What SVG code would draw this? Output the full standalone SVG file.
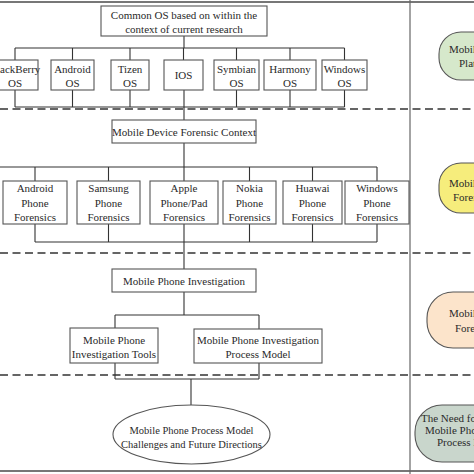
<svg xmlns="http://www.w3.org/2000/svg" width="474" height="474" viewBox="0 0 474 474">
<style>
.box{fill:#fff;stroke:#555;stroke-width:1.1}
.t{font-family:"Liberation Serif","Times New Roman",serif;font-size:11px;fill:#2a2a2a;text-anchor:middle}
.ts{font-family:"Liberation Serif","Times New Roman",serif;font-size:11px;fill:#2a2a2a}
.ln{fill:none;stroke:#333;stroke-width:1.1}
.dash{fill:none;stroke:#333;stroke-width:1.4;stroke-dasharray:8 4.5}
.pill{stroke:#555;stroke-width:1.1}
</style>
<rect x="0" y="0" width="474" height="474" fill="#fff"/>
<g id="frame">
<line x1="0" y1="2" x2="474" y2="2" stroke="#777" stroke-width="2"/>
<line x1="0" y1="471" x2="474" y2="471" stroke="#777" stroke-width="2"/>
<line x1="410" y1="0" x2="410" y2="474" stroke="#666" stroke-width="1.2"/>
<line class="dash" x1="0" y1="109" x2="474" y2="109"/>
<line class="dash" x1="0" y1="253" x2="474" y2="253"/>
<line class="dash" x1="0" y1="375" x2="474" y2="375"/>
</g>
<g id="connectors">
<path class="ln" d="M184 36V48M15 48H344.5M15 48V60M72.5 48V60M130 48V60M183.5 48V60M236.5 48V60M290 48V60M344.5 48V60"/>
<path class="ln" d="M15 90V107M72.5 90V107M130 90V107M236.5 90V107M290 90V107M344.5 90V107M15 107H344.5M184 90V120"/>
<path class="ln" d="M184 143V167M0 167H377M35 167V181M108.5 167V181M184 167V181M249.5 167V181M312.5 167V181M377 167V181"/>
<path class="ln" d="M35 224V242M108.5 224V242M249.5 224V242M312.5 224V242M377 224V242M35 242H377M184 224V269"/>
<path class="ln" d="M184 292V315M115 315H259M115 315V328M259 315V329"/>
<path class="ln" d="M115 363V379M259 363V379M115 379H259M191 379V405"/>
</g>
<g id="common-os"><rect class="box" x="101" y="6" width="166" height="30"/><text class="t" x="184" y="19">Common OS based on within the</text><text class="t" x="184" y="33">context of current research</text></g>
<g id="blackberry"><rect class="box" x="-8" y="60" width="46" height="30"/><text class="t" x="15" y="73">BlackBerry</text><text class="t" x="15" y="87">OS</text></g>
<g id="android-os"><rect class="box" x="51" y="60" width="43" height="30"/><text class="t" x="72.5" y="73">Android</text><text class="t" x="72.5" y="87">OS</text></g>
<g id="tizen"><rect class="box" x="111" y="60" width="38" height="30"/><text class="t" x="130" y="73">Tizen</text><text class="t" x="130" y="87">OS</text></g>
<g id="ios"><rect class="box" x="164" y="60" width="39" height="30"/><text class="t" x="183.5" y="79">IOS</text></g>
<g id="symbian"><rect class="box" x="214" y="60" width="45" height="30"/><text class="t" x="236.5" y="73">Symbian</text><text class="t" x="236.5" y="87">OS</text></g>
<g id="harmony"><rect class="box" x="264" y="60" width="52" height="30"/><text class="t" x="290" y="73">Harmony</text><text class="t" x="290" y="87">OS</text></g>
<g id="windows-os"><rect class="box" x="322" y="60" width="45" height="30"/><text class="t" x="344.5" y="73">Windows</text><text class="t" x="344.5" y="87">OS</text></g>
<g id="forensic-context"><rect class="box" x="112" y="120" width="144" height="23"/><text class="t" x="184" y="136">Mobile Device Forensic Context</text></g>
<g id="android-forensics"><rect class="box" x="3" y="181" width="64" height="43"/><text class="t" x="35" y="192">Android</text><text class="t" x="35" y="207">Phone</text><text class="t" x="35" y="221">Forensics</text></g>
<g id="samsung-forensics"><rect class="box" x="77" y="181" width="63" height="43"/><text class="t" x="108.5" y="192">Samsung</text><text class="t" x="108.5" y="207">Phone</text><text class="t" x="108.5" y="221">Forensics</text></g>
<g id="apple-forensics"><rect class="box" x="150" y="181" width="68" height="43"/><text class="t" x="184" y="192">Apple</text><text class="t" x="184" y="207">Phone/Pad</text><text class="t" x="184" y="221">Forensics</text></g>
<g id="nokia-forensics"><rect class="box" x="223" y="181" width="53" height="43"/><text class="t" x="249.5" y="192">Nokia</text><text class="t" x="249.5" y="207">Phone</text><text class="t" x="249.5" y="221">Forensics</text></g>
<g id="huawai-forensics"><rect class="box" x="283" y="181" width="59" height="43"/><text class="t" x="312.5" y="192">Huawai</text><text class="t" x="312.5" y="207">Phone</text><text class="t" x="312.5" y="221">Forensics</text></g>
<g id="windows-forensics"><rect class="box" x="345" y="181" width="64" height="43"/><text class="t" x="377" y="192">Windows</text><text class="t" x="377" y="207">Phone</text><text class="t" x="377" y="221">Forensics</text></g>
<g id="investigation"><rect class="box" x="112" y="269" width="144" height="23"/><text class="t" x="184" y="285">Mobile Phone Investigation</text></g>
<g id="tools"><rect class="box" x="70" y="328" width="88" height="35"/><text class="t" x="114" y="344">Mobile Phone</text><text class="t" x="114" y="358">Investigation Tools</text></g>
<g id="process-model"><rect class="box" x="194" y="329" width="128" height="34"/><text class="t" x="258" y="344">Mobile Phone Investigation</text><text class="t" x="258" y="358">Process Model</text></g>
<g id="challenges"><ellipse cx="191.5" cy="434.5" rx="78.5" ry="29.5" fill="#fff" stroke="#555" stroke-width="1.1"/><text class="t" x="191.5" y="434" style="font-size:10.5px">Mobile Phone Process Model</text><text class="t" x="191.5" y="448" style="font-size:10.5px">Challenges and Future Directions</text></g>
<g id="pill-platforms"><rect class="pill" x="439" y="32" width="80" height="48" rx="22" fill="#d6e8cb"/><text class="ts" x="449" y="53">Mobile Phone</text><text class="ts" x="459" y="67">Platforms</text></g>
<g id="pill-device"><rect class="pill" x="439" y="163" width="80" height="50" rx="22" fill="#f6ed7c"/><text class="ts" x="449" y="187">Mobile Device</text><text class="ts" x="453" y="201">Forensics</text></g>
<g id="pill-phone"><rect class="pill" x="427" y="292" width="90" height="56" rx="26" fill="#fce4cb"/><text class="ts" x="449" y="317">Mobile Phone</text><text class="ts" x="455" y="332">Forensics</text></g>
<g id="pill-need"><rect class="pill" x="415" y="405" width="100" height="57" rx="27" fill="#c9d6cc"/><text class="ts" x="421" y="422">The Need for</text><text class="ts" x="425" y="434">Mobile Phone</text><text class="ts" x="437" y="446">Process Model</text></g>
</svg>
